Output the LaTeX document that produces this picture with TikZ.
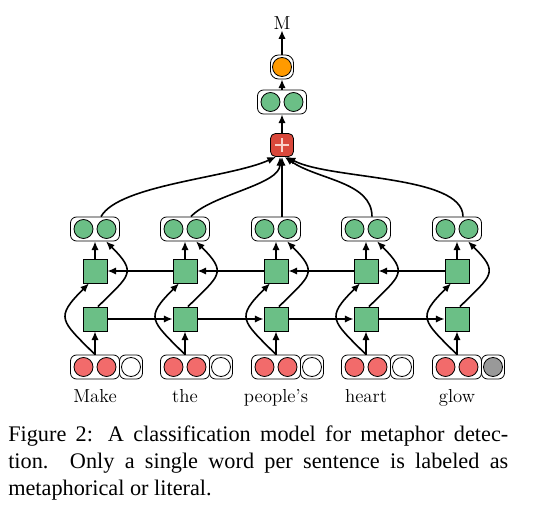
\documentclass[tikz,border=0pt]{standalone}
\usepackage{fontspec}
\newfontfamily\capfont{Liberation Serif}
\usetikzlibrary{arrows.meta}
\definecolor{cgreen}{HTML}{6BBF86}
\definecolor{cred}{HTML}{F26B6B}
\definecolor{corange}{HTML}{FF9A00}
\definecolor{cgray}{HTML}{999999}
\definecolor{cplusbg}{HTML}{D9483B}
\definecolor{cplusfg}{HTML}{F8D0C8}
\begin{document}
\begin{tikzpicture}[x=0.75pt,y=0.75pt,
  conn/.style={line width=1.2pt,-{Latex[length=6.5pt,width=5.5pt]}},
  vbox/.style={draw,line width=0.6pt,rounded corners=4.5pt,minimum width=36.75pt,minimum height=18pt,inner sep=0pt},
  sbox/.style={vbox,minimum width=17.25pt},
  dot/.style={circle,draw,line width=0.6pt,minimum size=14.25pt,inner sep=0pt},
  cell/.style={draw,line width=0.6pt,fill=cgreen,minimum size=18pt,inner sep=0pt},
  plusbox/.style={draw,line width=0.6pt,fill=cplusbg,rounded corners=3.75pt,minimum size=17.25pt,inner sep=0pt},
  word/.style={font=\fontsize{14.1pt}{17pt}\selectfont,anchor=base,inner sep=0pt}]
\useasboundingbox (0,0) rectangle (533,-513);
\foreach \i/\cx/\w/\third in {1/95/Make/white,2/185/the/white,3/276/people's/white,4/366/heart/white,5/457/glow/cgray}{
  \node[vbox] (in\i) at (\cx,-367) {};
  \node[dot,fill=cred] (ia\i) at (\cx-11.5,-367) {};
  \node[dot,fill=cred] (ib\i) at (\cx+11.5,-367) {};
  \node[sbox] (ix\i) at (\cx+36,-367) {};
  \node[dot,fill=\third] (ic\i) at (\cx+36,-367) {};
  \node[cell] (lo\i) at (\cx,-319) {};
  \node[cell] (up\i) at (\cx,-271) {};
  \node[vbox] (out\i) at (\cx,-229) {};
  \node[dot,fill=cgreen] (oa\i) at (\cx-11.5,-229) {};
  \node[dot,fill=cgreen] (ob\i) at (\cx+11.5,-229) {};
  \node[word] (w\i) at (\cx,-403) {\w};
  \draw[conn] (in\i.north) -- (lo\i.south);
  \draw[conn] (up\i.north) -- (out\i.south);
  \draw[conn] (in\i.north) to[out=135,in=225,looseness=1.75] ([xshift=-4.5pt]up\i.south);
  \draw[conn] ([xshift=2.25pt]lo\i.north) to[out=45,in=315,looseness=1.75] ([xshift=8.25pt]out\i.south);
}
\foreach \i [count=\j from 2] in {1,...,4}{
  \draw[conn] (lo\i) -- (lo\j);
  \draw[conn] (up\j) -- (up\i);
}
\node[plusbox] (plus) at (282,-145) {};
\draw[line width=0.9pt,cplusfg] ([xshift=-4.9pt]plus.center) -- ([xshift=4.9pt]plus.center);
\draw[line width=0.9pt,cplusfg] ([yshift=-4.9pt]plus.center) -- ([yshift=4.9pt]plus.center);
\node[vbox] (top) at (282,-102) {};
\node[dot,fill=cgreen] (ta) at (270.5,-102) {};
\node[dot,fill=cgreen] (tb) at (293.5,-102) {};
\node[sbox,rounded corners=6pt] (res) at (282,-67) {};
\node[dot,fill=corange] (rc) at (282,-67) {};
\node[word] (M) at (282,-30) {M};
\draw[conn] (plus) -- (top);
\draw[conn] (top) -- (res);
\draw[conn] (res) -- (M);
\draw[conn] ([xshift=4.5pt]out1.north) .. controls +(18,32) and +(-46,-21) .. ([xshift=-4.5pt]plus.south);
\draw[conn] ([xshift=4.5pt]out2.north) .. controls +(20,22) and +(0,-28) .. ([xshift=-1.5pt]plus.south);
\draw[conn] ([xshift=4.5pt]out3.north) -- (plus.south);
\draw[conn] ([xshift=4.5pt]out4.north) .. controls +(0,35) and +(33,-23) .. ([xshift=2pt]plus.south);
\draw[conn] ([xshift=4.5pt]out5.north) .. controls +(0,42) and +(43,-23) .. ([xshift=3.5pt]plus.south);
\node[anchor=north west,inner sep=0pt,text width=375pt,align=justify,font=\capfont\fontsize{16.7pt}{19.9pt}\selectfont] (cap) at (8,-426) {Figure 2: A classification model for metaphor detec-\linebreak tion. Only a single word per sentence is labeled as\linebreak metaphorical or literal.};
\end{tikzpicture}
\end{document}
